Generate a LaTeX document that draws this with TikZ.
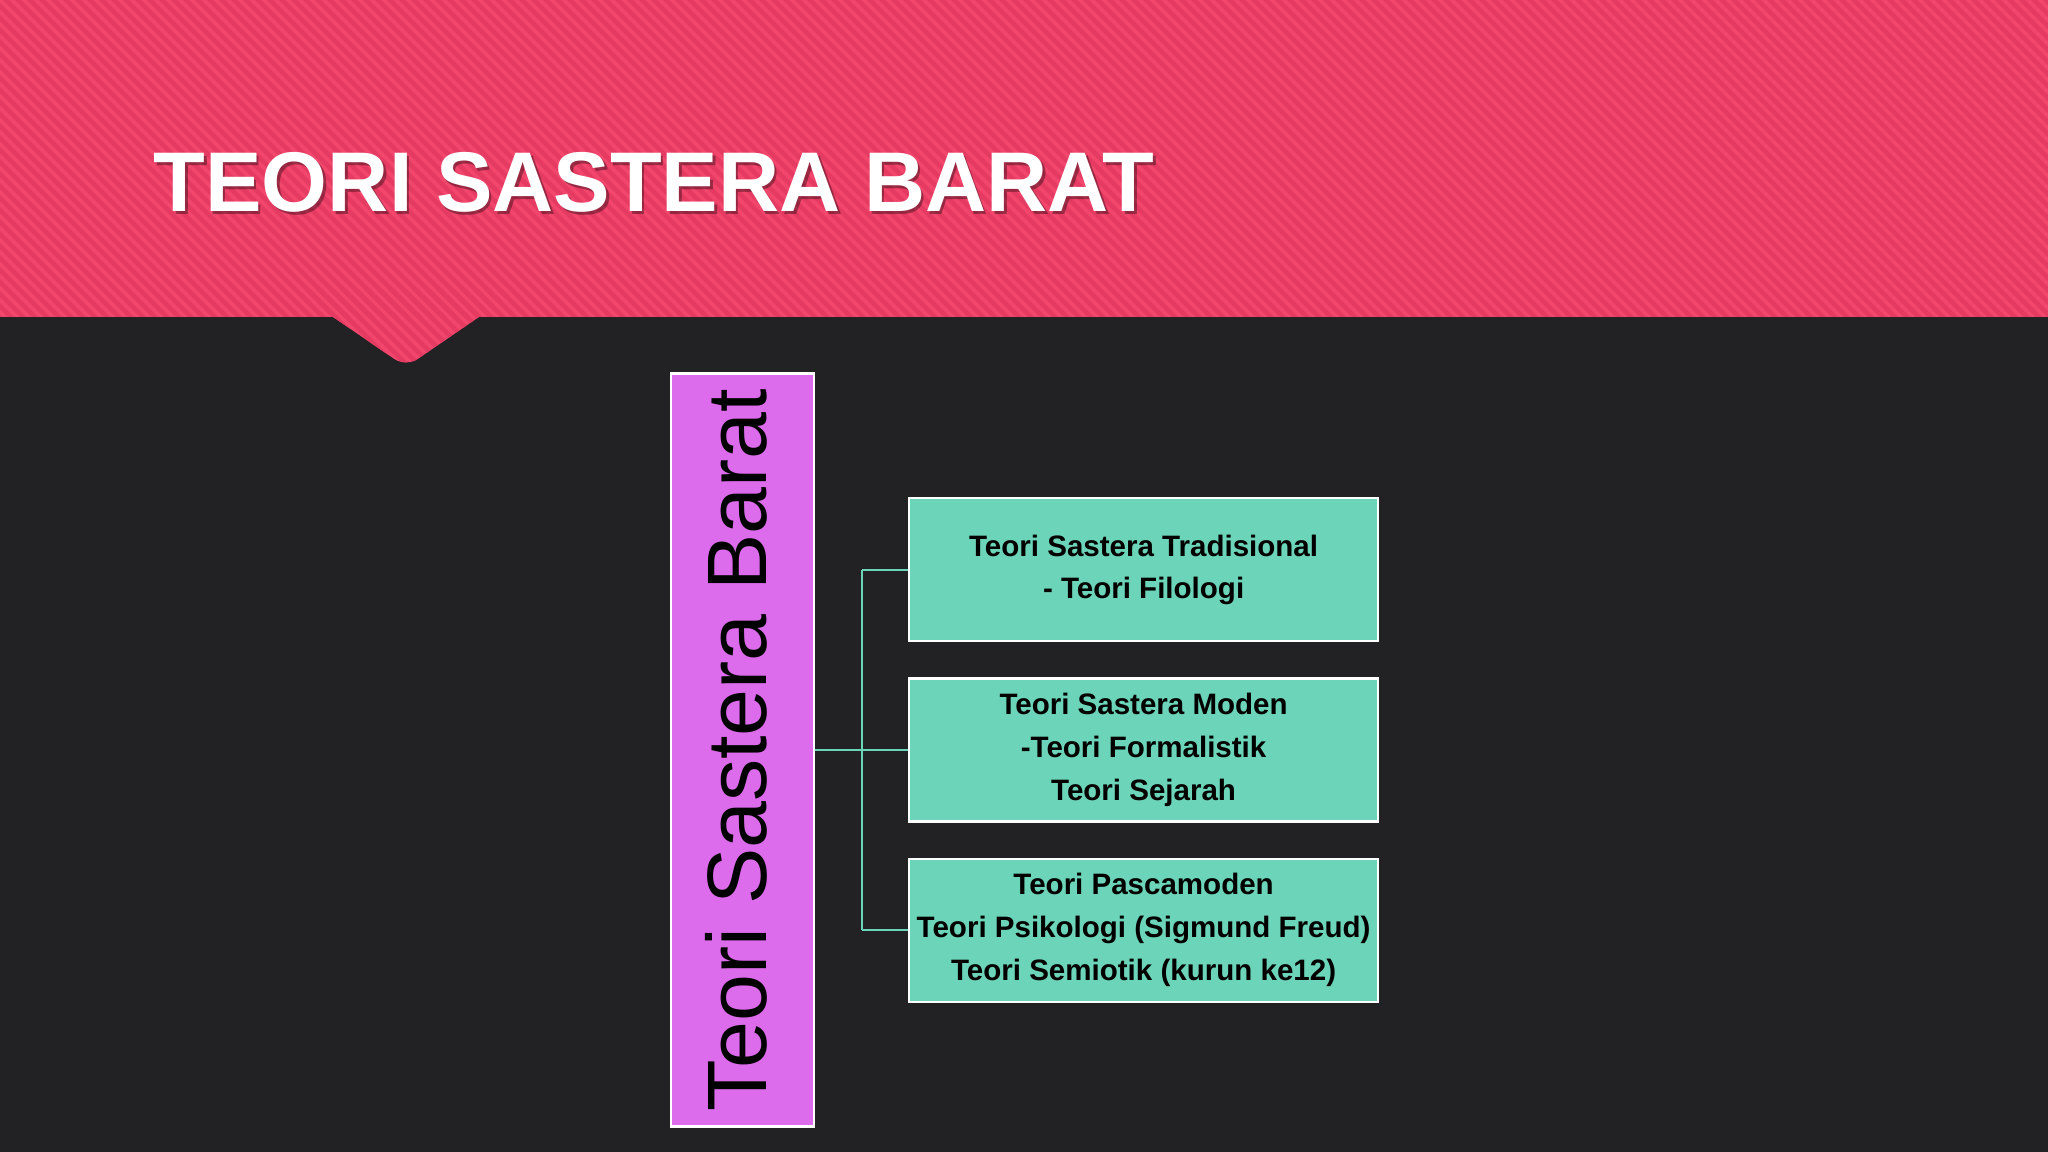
\documentclass[tikz,border=0pt]{standalone}
\usepackage{fontspec}
\setmainfont{Liberation Sans}
\usepackage{xcolor}
\usetikzlibrary{positioning, calc}

\definecolor{bgdark}{HTML}{222224}
\definecolor{headpink}{HTML}{F2466D}
\definecolor{stripepink}{HTML}{E53A61}
\definecolor{rootpurple}{HTML}{DC6CEC}
\definecolor{leafteal}{HTML}{6CD4B8}

\begin{document}
\begin{tikzpicture}[
        % Define block styles
        rootbox/.style={draw=white, line width=0.6pt, fill=rootpurple, rectangle, rotate=90,
            minimum width=7.53cm, minimum height=1.43cm, inner sep=0pt, text centered,
            text height=17.5pt, text depth=3.7pt,
            font=\fontsize{24}{28}\selectfont},
        leafbox/.style={draw=white, line width=0.6pt, fill=leafteal, rectangle,
            minimum width=4.69cm, minimum height=1.43cm, inner xsep=1pt, align=center,
            font=\bfseries\fontsize{8.4}{12.2}\selectfont},
        title/.style={anchor=base west, inner sep=0pt, text=white,
            font=\bfseries\fontsize{24.1}{29}\selectfont},
        link/.style={draw=leafteal, line width=0.6pt},
        stripe/.style={stripepink, line width=0.045cm}
    ]

    % --- Background and header band ---
    \useasboundingbox (0,0) rectangle (20.48,-11.52);
    \fill[bgdark] (0,0) rectangle (20.48,-11.52);
    \fill[headpink] (0,0) rectangle (20.48,-3.17);
    % notch below the band, only its tip is rounded
    \fill[headpink, rounded corners=4pt] (2.936,-2.9) -- (4.06,-3.67) -- (5.184,-2.9) -- cycle;

    % diagonal stripes on the band and on the notch
    \begin{scope}
        \clip (0,0) rectangle (20.48,-3.17);
        \foreach \i in {0,...,205}
            \draw[stripe] ({\i*0.12-4},0.1) -- ++(4,-4);
    \end{scope}
    \begin{scope}
        \clip[rounded corners=4pt] (2.936,-2.9) -- (4.06,-3.67) -- (5.184,-2.9) -- cycle;
        \foreach \i in {0,...,60}
            \draw[stripe] ({\i*0.12-4},0.1) -- ++(4,-4);
    \end{scope}

    % --- Title ---
    \node[title, text=black, opacity=0.35] (titleshade) at (1.555,-2.145) {TEORI SASTERA BARAT};
    \node[title] (titletext) at (1.53,-2.12) {TEORI SASTERA BARAT};

    % --- Nodes Placement ---
    \node[rootbox] (root) at (7.425,-7.50) {Teori Sastera Barat};

    \node[leafbox, right=0.93cm of root.south, anchor=west] (moden) {
        Teori Sastera Moden\\
        -Teori Formalistik\\
        Teori Sejarah
    };
    \node[leafbox, above=0.35cm of moden] (tradisional) {
        Teori Sastera Tradisional\\
        - Teori Filologi
    };
    \node[leafbox, below=0.35cm of moden] (pascamoden) {
        Teori Pascamoden\\
        Teori Psikologi (Sigmund Freud)\\
        Teori Semiotik (kurun ke12)
    };

    % Junction point between root and the three leaves
    \coordinate[right=0.47cm of root.south] (fork);

    % --- Connections ---
    \draw[link] (root.south) -- (fork);
    \draw[link] (fork |- tradisional.west) -- (fork |- pascamoden.west);
    \draw[link] (fork |- tradisional.west) -- (tradisional.west);
    \draw[link] (fork |- moden.west) -- (moden.west);
    \draw[link] (fork |- pascamoden.west) -- (pascamoden.west);

\end{tikzpicture}
\end{document}
